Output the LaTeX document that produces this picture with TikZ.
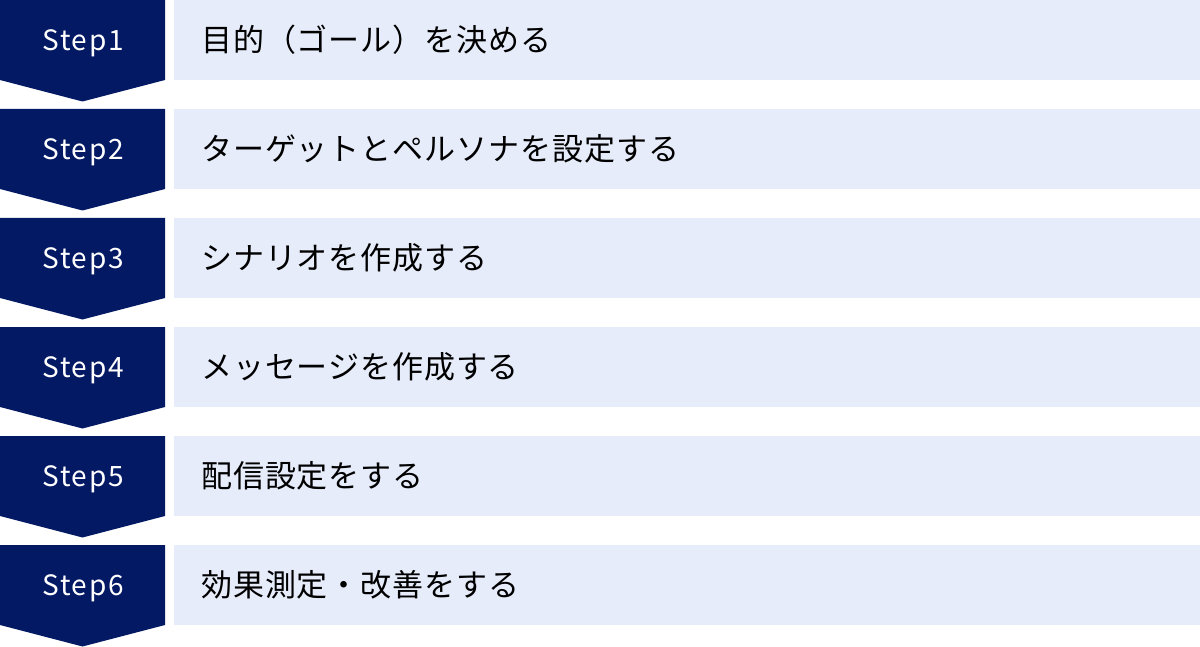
\documentclass[tikz,border=0pt]{standalone}
\usepackage{fontspec}
\setmainfont{Noto Sans CJK JP}
\newfontfamily\steplatin[LetterSpace=6]{Noto Sans CJK JP}
\newfontfamily\taskjp[LetterSpace=3]{Noto Sans CJK JP}
\definecolor{navy}{HTML}{031963}
\definecolor{lightbg}{HTML}{E6ECFA}
\begin{document}
\begin{tikzpicture}[x=1pt,y=-1pt,
  chev/.style={fill=navy},
  band/.style={fill=lightbg},
  steplabel/.style={text=white,inner sep=0pt,font=\steplatin\fontsize{28}{28}\selectfont},
  tasklabel/.style={text=black,inner sep=0pt,anchor=west,font=\taskjp\fontsize{31}{31}\selectfont}]
\useasboundingbox (0,0) rectangle (1200,647);
\foreach \i/\txt in {1/目的（ゴール）を決める,2/ターゲットとペルソナを設定する,3/シナリオを作成する,4/メッセージを作成する,5/配信設定をする,6/効果測定・改善をする}{
  \pgfmathsetmacro{\y}{(\i-1)*109}
  \fill[chev] (0,\y) -- (165,\y) -- (165,\y+80) -- (82.5,\y+101.5) -- (0,\y+80) -- cycle;
  \fill[band] (174,\y) rectangle (1200,\y+80);
  \node[steplabel] (step\i) at (83,\y+43.5) {Step\i};
  \node[tasklabel] (task\i) at (201,\y+40) {\txt};
}
\end{tikzpicture}
\end{document}
